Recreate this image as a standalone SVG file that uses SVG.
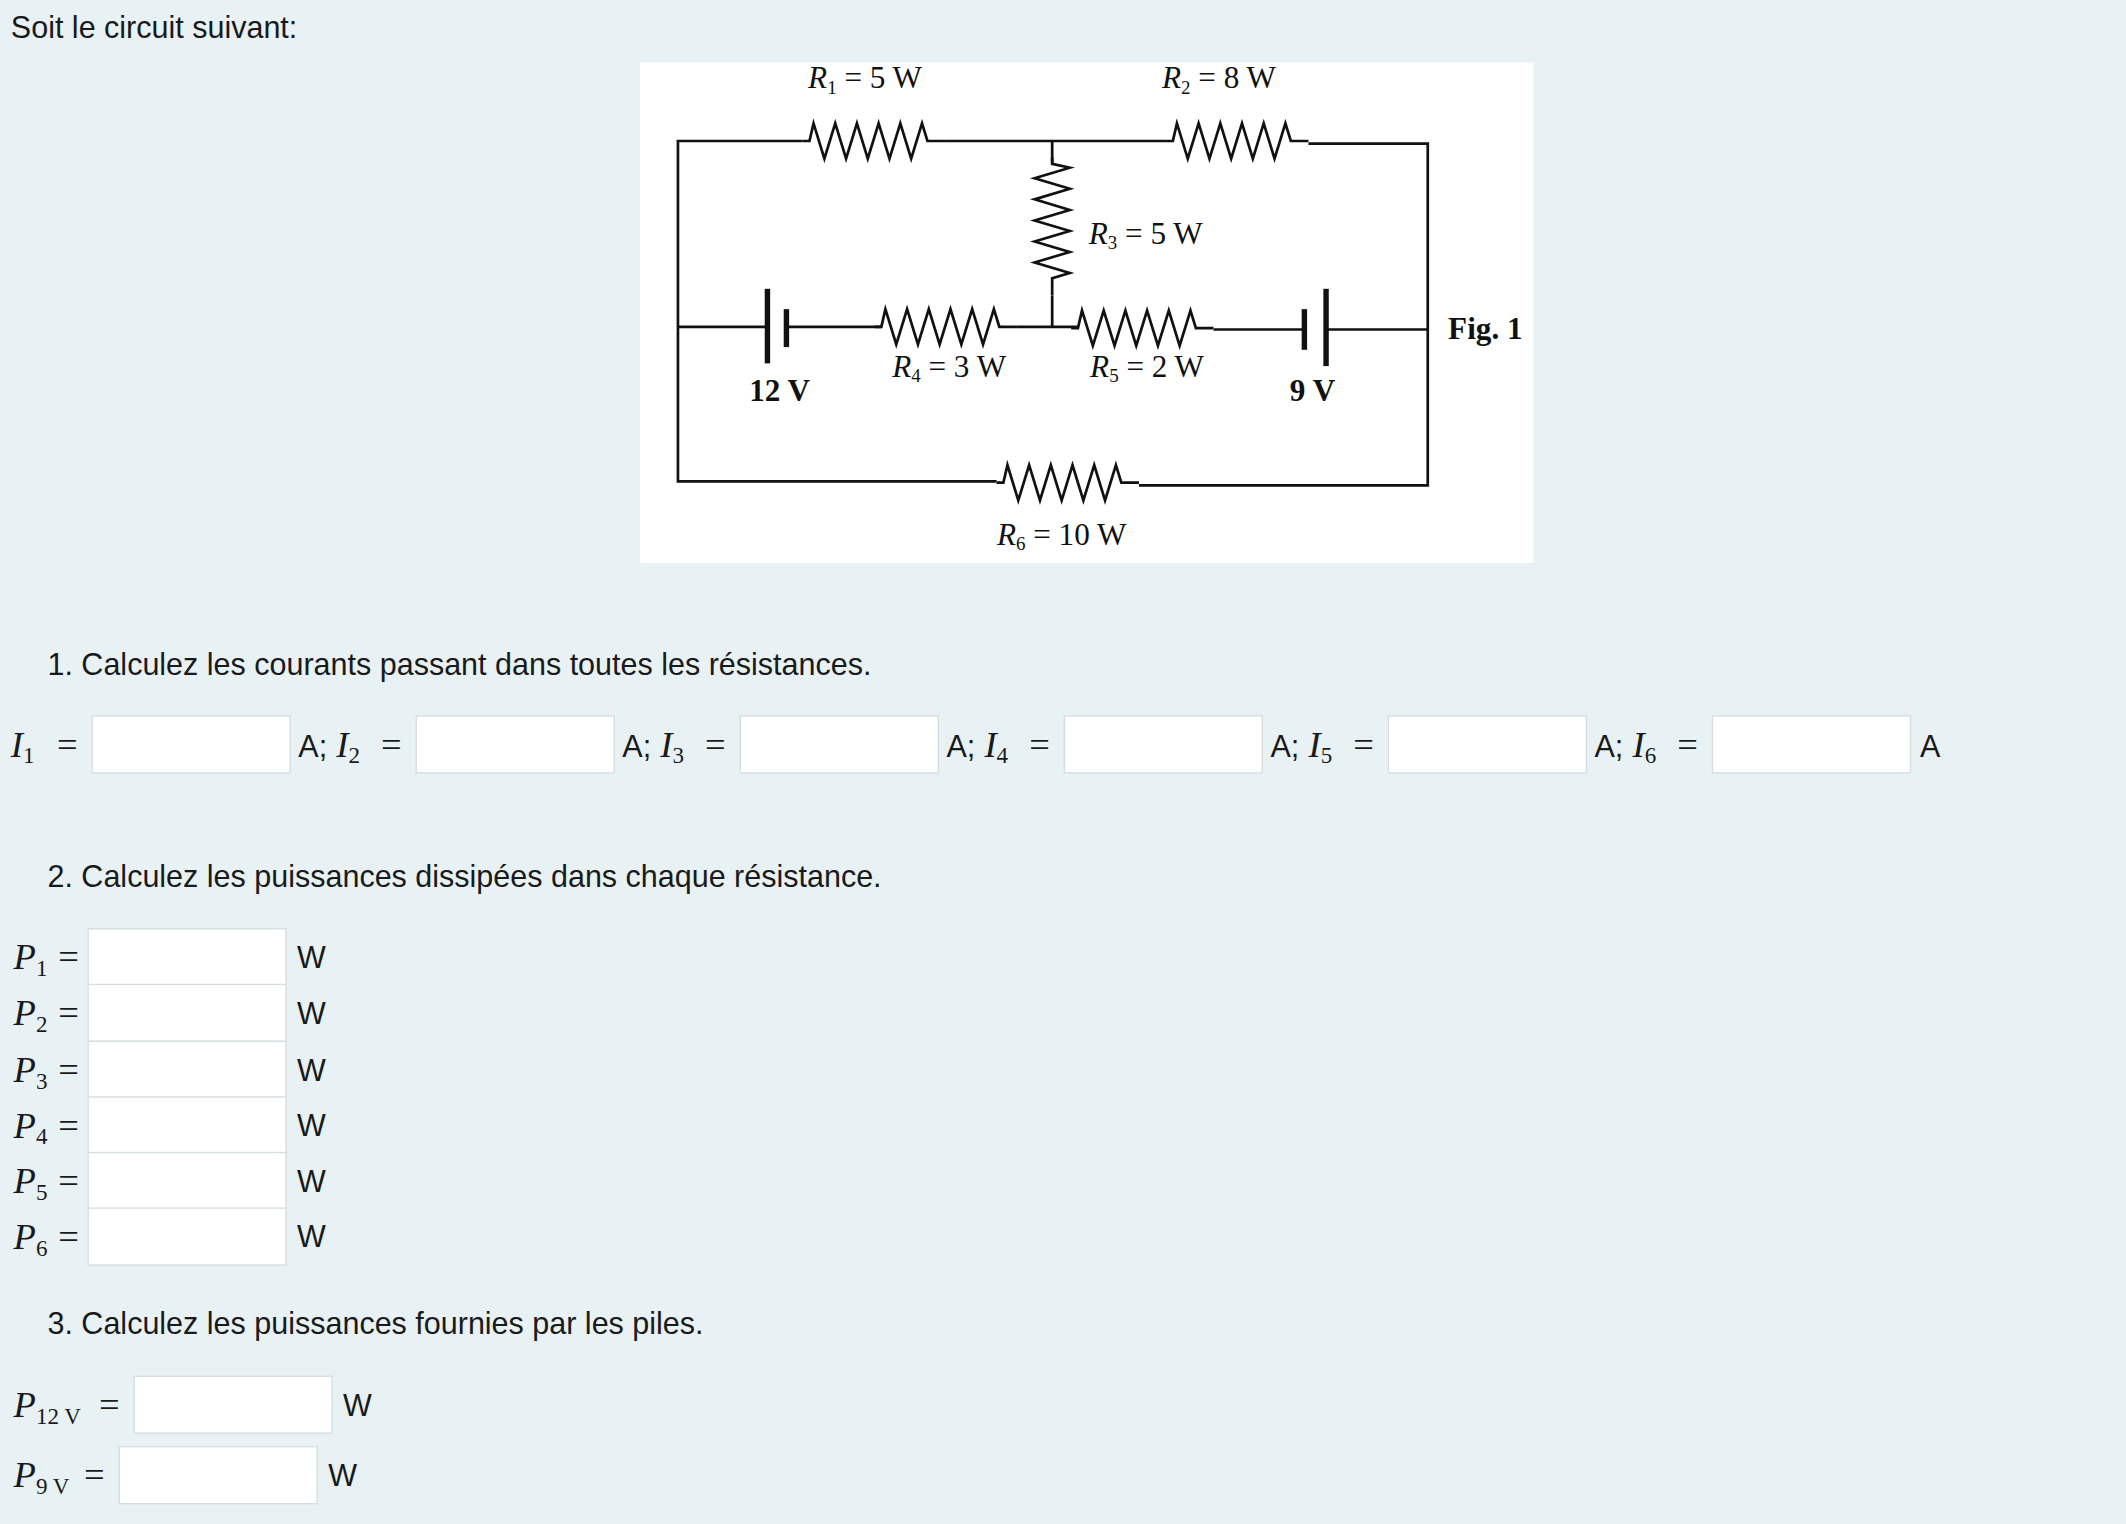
<svg xmlns="http://www.w3.org/2000/svg" xmlns:xlink="http://www.w3.org/1999/xlink" width="2126" height="1524" viewBox="0 0 2126 1524">
<style>
.t{font-family:"Liberation Sans",Arial,sans-serif;font-size:22.5px;fill:#1a1a1a}
.m{font-family:"Liberation Serif","Times New Roman",serif;font-size:27px;fill:#1a1a1a}
.c{font-family:"Liberation Serif","Times New Roman",serif;font-size:23px;fill:#111}
.w{fill:none;stroke:#111;stroke-width:2}
.box{fill:#fff;stroke:#d5dde0;stroke-width:1}
</style>
<defs>
<path id="z" d="M0,0 L5,0 L8,-13 L16,13 L24,-13 L32,13 L40,-13 L48,13 L56,-13 L64,13 L72,-13 L80,13 L88,-13 L92,0 L105,0" fill="none" stroke="#111" stroke-width="2"/>
<rect id="b" width="146" height="42" class="box"/>
</defs>
<rect width="2126" height="1524" fill="#e8f1f4"/>
<g transform="scale(1.3559)">
<text class="t" x="8" y="28">Soit le circuit suivant:</text>
<rect x="472" y="46" width="659" height="369" fill="#fff"/>
<g id="connectors">
<polyline class="w" points="592,104 500,104 500,355 735,355"/>
<polyline class="w" points="697,104 860,104"/>
<polyline class="w" points="965,106 1053,106 1053,358 840,358"/>
<polyline class="w" points="776,104 776,120"/>
<polyline class="w" points="776,218 776,241"/>
<polyline class="w" points="500,241 566,241"/>
<polyline class="w" points="580,241 650,241"/>
<polyline class="w" points="750,241 795,241"/>
<polyline class="w" points="895,243 962,243"/>
<polyline class="w" points="978,243 1053,243"/>
</g>
<g id="R1"><use href="#z" transform="translate(592,104)"/><text class="c" x="638" y="65" text-anchor="middle"><tspan font-style="italic">R</tspan><tspan font-size="14" dy="4">1</tspan><tspan dy="-4"> = 5 W</tspan></text></g>
<g id="R2"><use href="#z" transform="translate(860,104)"/><text class="c" x="899" y="65" text-anchor="middle"><tspan font-style="italic">R</tspan><tspan font-size="14" dy="4">2</tspan><tspan dy="-4"> = 8 W</tspan></text></g>
<g id="R3"><use href="#z" transform="translate(776,116) rotate(90) scale(0.97,1)"/><text class="c" x="803" y="180"><tspan font-style="italic">R</tspan><tspan font-size="14" dy="4">3</tspan><tspan dy="-4"> = 5 W</tspan></text></g>
<g id="R4"><use href="#z" transform="translate(645,241)"/><text class="c" x="700" y="278" text-anchor="middle"><tspan font-style="italic">R</tspan><tspan font-size="14" dy="4">4</tspan><tspan dy="-4"> = 3 W</tspan></text></g>
<g id="R5"><use href="#z" transform="translate(790,242)"/><text class="c" x="846" y="278" text-anchor="middle"><tspan font-style="italic">R</tspan><tspan font-size="14" dy="4">5</tspan><tspan dy="-4"> = 2 W</tspan></text></g>
<g id="R6"><use href="#z" transform="translate(735,356)"/><text class="c" x="783" y="402" text-anchor="middle"><tspan font-style="italic">R</tspan><tspan font-size="14" dy="4">6</tspan><tspan dy="-4"> = 10 W</tspan></text></g>
<g id="B12"><line x1="566" y1="213" x2="566" y2="268" stroke="#111" stroke-width="4"/><line x1="580" y1="228" x2="580" y2="256" stroke="#111" stroke-width="4"/><text class="c" x="575" y="296" text-anchor="middle" font-weight="bold">12 V</text></g>
<g id="B9"><line x1="962" y1="228" x2="962" y2="258" stroke="#111" stroke-width="4"/><line x1="978" y1="213" x2="978" y2="270" stroke="#111" stroke-width="4"/><text class="c" x="968" y="296" text-anchor="middle" font-weight="bold">9 V</text></g>
<text class="c" x="1068" y="250" font-weight="bold" font-size="26">Fig. 1</text>

<text class="t" x="35" y="498">1. Calculez les courants passant dans toutes les résistances.</text>
<g id="row1">
<text class="m" x="8" y="558"><tspan font-style="italic">I</tspan><tspan font-size="17" dy="5">1</tspan></text><text class="m" x="42" y="558">=</text>
<use href="#b" x="68" y="528"/><text class="t" x="220" y="558">A;</text><text class="m" x="248" y="558"><tspan font-style="italic">I</tspan><tspan font-size="17" dy="5">2</tspan></text><text class="m" x="281" y="558">=</text>
<use href="#b" x="307" y="528"/><text class="t" x="459" y="558">A;</text><text class="m" x="487" y="558"><tspan font-style="italic">I</tspan><tspan font-size="17" dy="5">3</tspan></text><text class="m" x="520" y="558">=</text>
<use href="#b" x="546" y="528"/><text class="t" x="698" y="558">A;</text><text class="m" x="726" y="558"><tspan font-style="italic">I</tspan><tspan font-size="17" dy="5">4</tspan></text><text class="m" x="759" y="558">=</text>
<use href="#b" x="785" y="528"/><text class="t" x="937" y="558">A;</text><text class="m" x="965" y="558"><tspan font-style="italic">I</tspan><tspan font-size="17" dy="5">5</tspan></text><text class="m" x="998" y="558">=</text>
<use href="#b" x="1024" y="528"/><text class="t" x="1176" y="558">A;</text><text class="m" x="1204" y="558"><tspan font-style="italic">I</tspan><tspan font-size="17" dy="5">6</tspan></text><text class="m" x="1237" y="558">=</text>
<use href="#b" x="1263" y="528"/><text class="t" x="1416" y="558">A</text>
</g>

<text class="t" x="35" y="654">2. Calculez les puissances dissipées dans chaque résistance.</text>
<g id="rowP">
<text class="m" x="10" y="715"><tspan font-style="italic">P</tspan><tspan font-size="17" dy="5">1</tspan></text><text class="m" x="43" y="715">=</text><use href="#b" x="65" y="685"/><text class="t" x="219" y="714">W</text>
<text class="m" x="10" y="756"><tspan font-style="italic">P</tspan><tspan font-size="17" dy="5">2</tspan></text><text class="m" x="43" y="756">=</text><use href="#b" x="65" y="726"/><text class="t" x="219" y="755">W</text>
<text class="m" x="10" y="798"><tspan font-style="italic">P</tspan><tspan font-size="17" dy="5">3</tspan></text><text class="m" x="43" y="798">=</text><use href="#b" x="65" y="768"/><text class="t" x="219" y="797">W</text>
<text class="m" x="10" y="839"><tspan font-style="italic">P</tspan><tspan font-size="17" dy="5">4</tspan></text><text class="m" x="43" y="839">=</text><use href="#b" x="65" y="809"/><text class="t" x="219" y="838">W</text>
<text class="m" x="10" y="880"><tspan font-style="italic">P</tspan><tspan font-size="17" dy="5">5</tspan></text><text class="m" x="43" y="880">=</text><use href="#b" x="65" y="850"/><text class="t" x="219" y="879">W</text>
<text class="m" x="10" y="921"><tspan font-style="italic">P</tspan><tspan font-size="17" dy="5">6</tspan></text><text class="m" x="43" y="921">=</text><use href="#b" x="65" y="891"/><text class="t" x="219" y="920">W</text>
</g>

<text class="t" x="35" y="984">3. Calculez les puissances fournies par les piles.</text>
<g id="rowB">
<text class="m" x="10" y="1045"><tspan font-style="italic">P</tspan><tspan font-size="17" dy="5">12 V</tspan></text><text class="m" x="73" y="1045">=</text><use href="#b" x="99" y="1015"/><text class="t" x="253" y="1044">W</text>
<text class="m" x="10" y="1097"><tspan font-style="italic">P</tspan><tspan font-size="17" dy="5">9 V</tspan></text><text class="m" x="62" y="1097">=</text><use href="#b" x="88" y="1067"/><text class="t" x="242" y="1096">W</text>
</g>
</g>
</svg>
